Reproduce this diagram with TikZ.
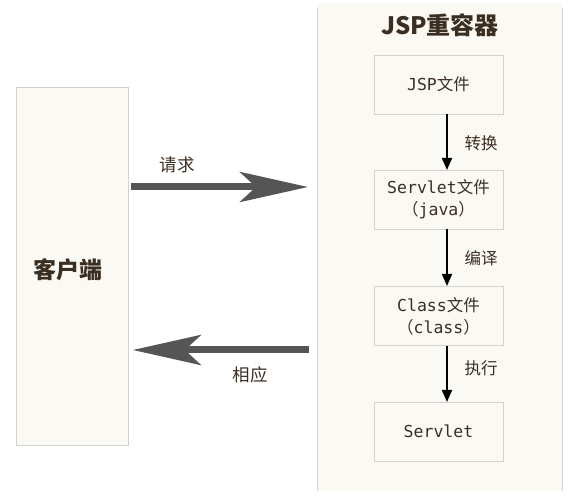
\documentclass[tikz,border=0pt]{standalone}
\usepackage{fontspec}
\newfontfamily\cjk{Noto Sans CJK SC}
\newfontfamily\mono{DejaVu Sans Mono}
\usetikzlibrary{arrows.meta}
\definecolor{txt}{HTML}{3B2E22}
\definecolor{boxfill}{HTML}{FAF9F3}
\definecolor{boxline}{HTML}{D4D2CC}
\definecolor{bigarrow}{HTML}{555555}
\tikzset{
  filebox/.style={draw=boxline, fill=boxfill, line width=0.8pt, minimum width=129pt, minimum height=59pt, align=center, text=txt, font=\fontsize{16.5}{22}\selectfont, inner sep=0pt},
  flow/.style={-{Triangle[length=12pt,width=10pt]}, line width=1.8pt, black},
  biga/.style={-{Stealth[length=68pt,width=30pt,inset=16pt]}, line width=7pt, bigarrow},
  lbl/.style={text=txt, font=\cjk\fontsize{16.5}{18}\selectfont, inner sep=0pt},
}
\begin{document}
\begin{tikzpicture}[x=1pt,y=-1pt]
\useasboundingbox (0,0) rectangle (571,502);
% container
\fill[boxfill] (317,3) rectangle (562,491);
\draw[boxline, line width=0.8pt] (317,8) -- (317,491) (562,8) -- (562,491);
\node[text=txt, font=\cjk\bfseries\fontsize{24}{26}\selectfont, inner sep=0pt] (title) at (440,25) {JSP重容器};
% client
\node[draw=boxline, fill=boxfill, line width=0.8pt, minimum width=112pt, minimum height=358pt, inner sep=0pt, anchor=north west] (client) at (16,87) {};
\node[text=txt, font=\cjk\bfseries\fontsize{23}{26}\selectfont, inner sep=0pt] (clientlbl) at (68,270) {客户端};
% file boxes
\node[filebox] (jsp) at (438.5,84.5) {{\mono JSP}{\cjk 文件}};
\node[filebox] (srv) at (438.5,199.5) {{\mono Servlet}{\cjk 文件}\\{\cjk （}{\mono java}{\cjk ）}};
\node[filebox] (cls) at (438.5,316) {{\mono Class}{\cjk 文件}\\{\cjk （}{\mono class}{\cjk ）}};
\node[filebox] (sv) at (438.5,431.5) {{\mono Servlet}};
% flow arrows
\draw[flow] (447,114) -- (447,170);
\draw[flow] (447,229) -- (447,286);
\draw[flow] (447,346) -- (447,402);
\node[lbl] (l1) at (481,143) {转换};
\node[lbl] (l2) at (481,258) {编译};
\node[lbl] (l3) at (481,368) {执行};
% big arrows
\coordinate (reqend) at (308,187);
\coordinate (resstart) at (309,350);
\draw[biga] (client.east |- reqend) ++(2,0) -- (reqend);
\draw[biga] (resstart) -- ([xshift=4pt]client.east |- resstart);
\node[lbl, font=\cjk\fontsize{17.5}{19}\selectfont] (req) at (177,165) {请求};
\node[lbl, font=\cjk\fontsize{17.5}{19}\selectfont] (res) at (250,375) {相应};
\end{tikzpicture}
\end{document}
